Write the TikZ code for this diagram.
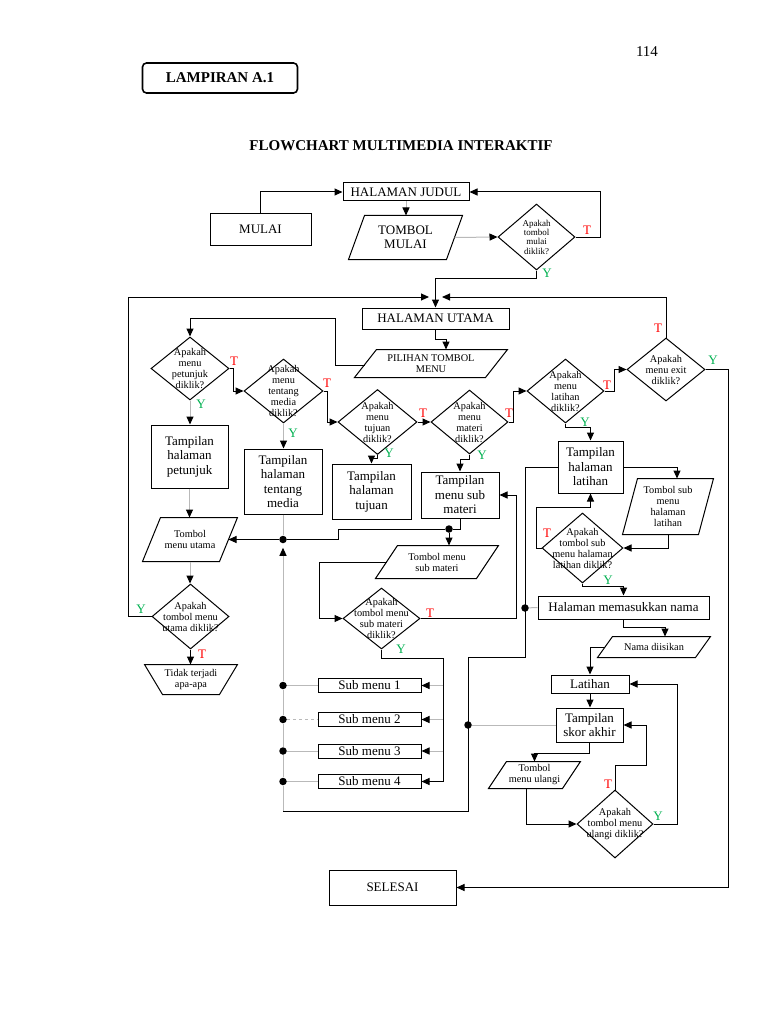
\documentclass[tikz,border=0pt]{standalone}
\usepackage{fontspec}
\setmainfont{Liberation Serif}
\usetikzlibrary{arrows.meta,shapes.geometric,calc}
\definecolor{ygreen}{RGB}{0,176,80}
\definecolor{lgray}{RGB}{185,185,185}
\newcommand\FtBig{\fontsize{13}{14.5}\selectfont}
\newcommand\FtSm{\fontsize{10.3}{11}\selectfont}
\newcommand\FtXs{\fontsize{9}{9.3}\selectfont}
\newcommand\FtLab{\fontsize{13}{13}\selectfont}
\newcommand\FtHead{\fontsize{15}{17}\selectfont}
\newcommand\parashape[2]{\draw (#1.south west) -- ([xshift=#2]#1.north west) -- (#1.north east) -- ([xshift=-#2]#1.south east) -- cycle;}
\newcommand\trapshape[2]{\draw (#1.north west) -- (#1.north east) -- ([xshift=-#2]#1.south east) -- ([xshift=#2]#1.south west) -- cycle;}
\begin{document}
\begin{tikzpicture}[x=1pt,y=-1pt,line width=1pt,
  arr/.style={-{Triangle[length=8pt,width=7pt]}},
  garr/.style={draw=lgray,-{Triangle[length=8pt,width=7pt,color=black]}},
  gl/.style={draw=lgray},
  box/.style 2 args={draw, rectangle, minimum width=#1, minimum height=#2, inner sep=0pt, align=center, font=\FtBig},
  pnode/.style 2 args={rectangle, minimum width=#1, minimum height=#2, inner sep=0pt, align=center, font=\FtSm},
  dia/.style 2 args={draw, diamond, minimum width=#1, minimum height=#2, inner sep=0pt},
  dtxt/.style={align=center, font=\FtSm, inner sep=0pt},
  dot/.style={circle, fill=black, draw=none, inner sep=0pt, minimum size=7.5pt},
  tl/.style={text=red, font=\FtLab, inner sep=0pt},
  yl/.style={text=ygreen, font=\FtLab, inner sep=0pt}]
\useasboundingbox (0,0) rectangle (768,1024);

% header
\node[font=\FtHead] (pg) at (647,52) {114};
\node[draw, rounded corners=4pt, line width=1.6pt, minimum width=155pt, minimum height=30pt, inner sep=0pt, font=\bfseries\FtHead] (lamp) at (220,78) {LAMPIRAN A.1};
\node[font=\bfseries\FtHead] (title) at (401,146) {FLOWCHART MULTIMEDIA INTERAKTIF};

% top part
\node[box={126pt}{18pt}] (judul) at (406,192) {HALAMAN JUDUL};
\node[box={101pt}{31pt}] (mulai) at (260.5,229.5) {MULAI};
\node[pnode={113pt}{43pt}, font=\FtBig] (tmulai) at (405.5,237.5) {TOMBOL\\MULAI};
\parashape{tmulai}{16pt}
\node[dia={77pt}{66pt}, label={[dtxt,font=\FtXs]center:Apakah\\tombol\\mulai\\diklik?}] (dmulai) at (536.5,237) {};

\node[box={147pt}{21pt}] (utama) at (435.5,318.5) {HALAMAN UTAMA};
\node[pnode={152pt}{27pt}] (pilihan) at (431,363.5) {PILIHAN TOMBOL\\MENU};
\parashape{pilihan}{22pt}

% decision row
\node[dia={78pt}{63pt}, label={[dtxt]center:Apakah\\menu\\petunjuk\\diklik?}] (dpet) at (190,368.5) {};
\node[dia={79pt}{64pt}, label={[dtxt]center:Apakah\\menu\\tentang\\media\\diklik?}] (dten) at (283.5,391) {};
\node[dia={79pt}{65pt}, label={[dtxt]center:Apakah\\menu\\tujuan\\diklik?}] (dtuj) at (377.5,422) {};
\node[dia={77pt}{64pt}, label={[dtxt]center:Apakah\\menu\\materi\\diklik?}] (dmat) at (469.5,422) {};
\node[dia={77pt}{64pt}, label={[dtxt]center:Apakah\\menu\\latihan\\diklik?}] (dlat) at (565.5,391) {};
\node[dia={78pt}{63pt}, label={[dtxt]center:Apakah\\menu exit\\diklik?}] (dexit) at (666,369.5) {};

% display boxes
\node[box={77pt}{63pt}] (bpet) at (189.5,456.5) {Tampilan\\halaman\\petunjuk};
\node[box={78pt}{65pt}] (bten) at (283,481.5) {Tampilan\\halaman\\tentang\\media};
\node[box={79pt}{55pt}] (btuj) at (371.5,491.5) {Tampilan\\halaman\\tujuan};
\node[box={78pt}{46pt}] (bmat) at (460,495) {Tampilan\\menu sub\\materi};
\node[box={65pt}{52pt}] (blat) at (590.5,467) {Tampilan\\halaman\\latihan};

% latihan branch
\node[pnode={90pt}{55pt}] (tsublat) at (668,506.5) {Tombol sub\\menu\\halaman\\latihan};
\parashape{tsublat}{15pt}
\node[dia={81pt}{70pt}, label={[dtxt]center:Apakah\\tombol sub\\menu halaman\\latihan diklik?}] (dsublat) at (582.5,548) {};
\node[box={171pt}{23pt}] (nama) at (623.5,607.5) {Halaman memasukkan nama};
\node[pnode={112pt}{20pt}] (namadi) at (654,647) {Nama diisikan};
\parashape{namadi}{15pt}
\node[box={78pt}{18pt}] (lat2) at (590,684) {Latihan};
\node[box={67pt}{34pt}] (skor) at (589.5,725) {Tampilan\\skor akhir};
\node[pnode={91pt}{26pt}] (tulangi) at (534.5,775) {Tombol\\menu ulangi};
\parashape{tulangi}{18pt}
\node[dia={76pt}{68pt}, label={[dtxt]center:Apakah\\tombol menu\\ulangi diklik?}] (dulangi) at (615,824) {};
\node[box={127pt}{35pt}] (selesai) at (392.5,887.5) {SELESAI};

% petunjuk branch
\node[pnode={94pt}{43pt}] (tmutama) at (190,539.5) {Tombol\\menu utama};
\parashape{tmutama}{18pt}
\node[dia={77pt}{65pt}, label={[dtxt]center:Apakah\\tombol menu\\utama diklik?}] (dutama) at (190.5,616.5) {};
\node[pnode={92pt}{29pt}] (tidak) at (191,679.5) {Tidak terjadi\\apa-apa};
\trapshape{tidak}{18pt}

% materi branch
\node[pnode={122pt}{32pt}] (tsubmat) at (437,562) {Tombol menu\\sub materi};
\parashape{tsubmat}{22pt}
\node[dia={77pt}{61pt}, label={[dtxt]center:Apakah\\tombol menu\\sub materi\\diklik?}] (dsubmat) at (381.5,618.5) {};
\node[box={103pt}{14pt}] (sub1) at (369.5,685.5) {Sub menu 1};
\node[box={103pt}{14pt}] (sub2) at (369.5,719.5) {Sub menu 2};
\node[box={103pt}{14pt}] (sub3) at (369.5,751) {Sub menu 3};
\node[box={103pt}{14pt}] (sub4) at (369.5,781.5) {Sub menu 4};

% junction dots
\node[dot] (dA) at (283,539.5) {};
\node[dot] (dB) at (449,529) {};
\node[dot] (dC) at (525,608) {};
\node[dot] (dD) at (468,725) {};
\node[dot] (s1) at (283,685.5) {};
\node[dot] (s2) at (283,719.5) {};
\node[dot] (s3) at (283,751) {};
\node[dot] (s4) at (283,781.5) {};
\coordinate (lb) at (283,811);

% connectors: top
\draw[arr] (mulai.north) |- (judul.west);
\draw[garr] (judul.south) -- (judul.south |- tmulai.north);
\draw[garr] ([xshift=-8pt]tmulai.east) -- (dmulai.west);
\draw[arr] (dmulai.east) -- ++(25,0) |- (judul.east);
\draw[arr] (dmulai.south) -- ++(0,8) -| (utama.north);
\draw[arr] (dexit.north) |- (442,297);
\draw[arr] (dutama.west) -| (128,297) -- (429,297);
\draw[arr] (utama.south) -- ++(0,9.5) -| ([xshift=15pt]pilihan.north);
\draw[arr] ([xshift=10pt,yshift=-1.5pt]pilihan.west) -| (335,318) -| (dpet.north);

% decision chain
\draw[arr] (dpet.east) -- ++(4,0) |- (dten.west);
\draw[arr] (dten.east) -- ++(4,0) |- (dtuj.west);
\draw[arr] (dtuj.east) -- (dmat.west);
\draw[arr] (dmat.east) -- ++(5,0) |- (dlat.west);
\draw[arr] (dlat.east) -- ++(10,0) |- (dexit.west);
\draw[arr] (dexit.east) -- ++(23,0) |- (selesai.east);

% Y branches
\draw[garr] (dpet.south) -- (dpet.south |- bpet.north);
\draw[garr] (dten.south) -- (dten.south |- bten.north);
\draw[arr] (dtuj.south) -- ++(0,3) -| (btuj.north);
\draw[arr] (dmat.south) -- ++(0,5) -| (bmat.north);
\draw[arr] (dlat.south) -- ++(0,4) -| (blat.north);

% petunjuk branch
\draw[garr] (bpet.south) -- (bpet.south |- tmutama.north);
\draw[garr] (tmutama.south) -- (tmutama.south |- dutama.north);
\draw[arr] (dutama.south) -- (dutama.south |- tidak.north);
\draw[gl] (bten.south) -- (dA);
\draw[arr] (dA) -- ([xshift=-9pt]tmutama.east);

% materi branch
\draw (bmat.south) |- (dB);
\draw[arr] (dB) -- (dB |- tsubmat.north);
\draw (dB) -- (338,529) |- (dA);
\draw[gl] (lb) -- (s4) -- (s3) -- (s2) -- (s1);
\draw[garr] (s1) -- ([yshift=-4pt]dA.south);
\draw[arr] ([xshift=11pt]tsubmat.west) -- (319,562) |- (dsubmat.west);
\draw[arr] (dsubmat.east) -- (516,618.5) |- (bmat.east);
\draw[arr] (dsubmat.south) -- ++(0,8.5) -| (443,781.5) -- (sub4.east);
\draw[garr] (443,685.5) -- (sub1.east);
\draw[garr] (443,719.5) -- (sub2.east);
\draw[garr] (443,751) -- (sub3.east);
\draw[gl] (s1) -- (sub1.west);
\draw[gl,dashed] (s2) -- (sub2.west);
\draw[gl] (s3) -- (sub3.west);
\draw[gl] (s4) -- (sub4.west);

% latihan branch
\draw (blat.west) -| (525,657) -| (468,811) -- (lb);
\draw[gl] (dC) -- (nama.west);
\draw[gl] (dD) -- (skor.west);
\draw[arr] (blat.east) -| ([xshift=9pt]tsublat.north);
\draw[arr] (tsublat.south) |- (dsublat.east);
\draw[arr] (dsublat.west) -- ++(-5,0) |- (590.5,507) -- (blat.south);
\draw[arr] (dsublat.south) -- ++(0,3) -| (nama.north);
\draw[arr] (nama.south) -- ++(0,8) -| ([xshift=11pt]namadi.north);
\draw[arr] ([xshift=7.5pt]namadi.west) -| (lat2.north);
\draw[arr] (lat2.south) -- (lat2.south |- skor.north);
\draw[arr] (skor.south) -- ++(0,11) -| (tulangi.north);
\draw[arr] ([xshift=-8pt]tulangi.south) |- (dulangi.west);
\draw[arr] (dulangi.north) -- ++(0,-24) -| (646,725) -- (skor.east);
\draw[arr] (dulangi.east) -- ++(24,0) |- (lat2.east);

% T / Y labels
\node[tl] (t1) at (587,230) {T};
\node[yl] (y1) at (547,273) {Y};
\node[tl] (t2) at (658,328) {T};
\node[yl] (y2) at (713,360) {Y};
\node[tl] (t3) at (234,361) {T};
\node[yl] (y3) at (201,404) {Y};
\node[tl] (t4) at (327,383) {T};
\node[yl] (y4) at (293,433) {Y};
\node[tl] (t5) at (423,413) {T};
\node[yl] (y5) at (389,453) {Y};
\node[tl] (t6) at (509,413) {T};
\node[yl] (y6) at (482,455) {Y};
\node[tl] (t7) at (607,385) {T};
\node[yl] (y7) at (585,422) {Y};
\node[tl] (t8) at (547,533) {T};
\node[yl] (y8) at (608,580) {Y};
\node[yl] (y9) at (141,609) {Y};
\node[tl] (t9) at (202,654) {T};
\node[tl] (t10) at (430,613) {T};
\node[yl] (y10) at (401,649) {Y};
\node[tl] (t11) at (608,784) {T};
\node[yl] (y11) at (658,816) {Y};
\end{tikzpicture}
\end{document}
